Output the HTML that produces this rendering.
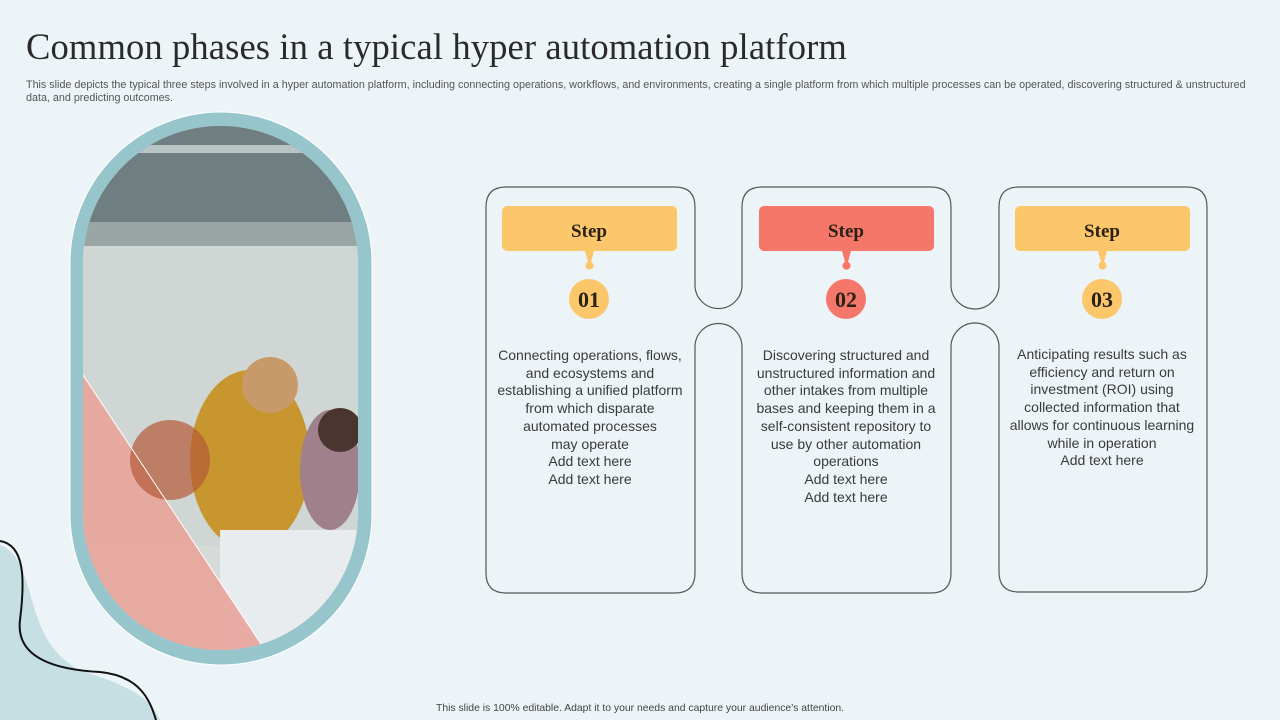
<!DOCTYPE html>
<html><head><meta charset="utf-8"><style>
body{margin:0;width:1280px;height:720px;overflow:hidden;background:#edf4f7;position:relative;font-family:"Liberation Sans",sans-serif}
.t{position:absolute;left:26px;top:25px;font-family:"Liberation Serif",serif;font-size:36.6px;color:#2a2a2a;white-space:nowrap;letter-spacing:0.1px}
.s{position:absolute;left:26px;top:79px;width:1240px;font-size:10.75px;line-height:13px;color:#555;white-space:nowrap}
.f{position:absolute;left:0;width:1280px;text-align:center;top:703px;font-size:10.4px;color:#444}
.b{position:absolute;width:220px;text-align:center;font-size:14px;line-height:17.7px;color:#3a3a3a;white-space:nowrap}
</style></head><body>
<div class="t">Common phases in a typical hyper automation platform</div>
<div class="s">This slide depicts the typical three steps involved in a hyper automation platform, including connecting operations, workflows, and environments, creating a single platform from which multiple processes can be operated, discovering structured &amp; unstructured<br>data, and predicting outcomes.</div>
<svg width="1280" height="720" style="position:absolute;left:0;top:0">
<defs>
<clipPath id="cp"><rect x="83" y="126" width="275" height="524" rx="137"/></clipPath>
</defs>
<path d="M0,545 C40,560 20,640 80,670 C140,690 150,700 160,720 L0,720 Z" fill="#c5dfe3"/>
<path d="M0,541 C25,545 25,580 20,620 C15,660 60,670 100,672 C140,676 150,700 156,720" fill="none" stroke="#111" stroke-width="2"/>
<rect x="70" y="112" width="302" height="553" rx="151" fill="#97c5cc" stroke="#fff" stroke-width="1"/>
<g clip-path="url(#cp)">
<rect x="83" y="126" width="275" height="524" fill="#d6dbd8"/>
<rect x="83" y="126" width="275" height="100" fill="#6f7e80"/>
<rect x="120" y="145" width="220" height="8" fill="#b8c4c4"/>
<rect x="83" y="222" width="275" height="24" fill="#9aa6a6"/>
<rect x="83" y="246" width="275" height="300" fill="#d0d6d3"/>
<ellipse cx="250" cy="460" rx="60" ry="90" fill="#c8962e"/>
<circle cx="270" cy="385" r="28" fill="#c89a6a"/>
<ellipse cx="330" cy="470" rx="30" ry="60" fill="#a0808a"/>
<circle cx="340" cy="430" r="22" fill="#4a3530"/>
<rect x="220" y="530" width="140" height="120" fill="#e8ecef"/>
<path d="M83,375 L265,650 L83,650 Z" fill="#e8a49a" opacity="0.9"/>
<circle cx="170" cy="460" r="40" fill="#b45a38" opacity="0.7"/>
<path d="M83,375 L265,650" stroke="#fff" stroke-width="1"/>
</g>
<g fill="none" stroke="#555" stroke-width="1.2">
<path d="M695,285 V207 Q695,187 675,187 H506 Q486,187 486,207 V573 Q486,593 506,593 H675 Q695,593 695,573 V347"/>
<path d="M695,285 A23.5,23.5 0 0 0 742,285"/>
<path d="M695,347 A23.5,23.5 0 0 1 742,347"/>
<path d="M742,285 V207 Q742,187 762,187 H931 Q951,187 951,207 V285"/>
<path d="M742,347 V573 Q742,593 762,593 H931 Q951,593 951,573 V347"/>
<path d="M951,285 A24,24 0 0 0 999,285"/>
<path d="M951,347 A24,24 0 0 1 999,347"/>
<path d="M999,285 V207 Q999,187 1019,187 H1187 Q1207,187 1207,207 V572 Q1207,592 1187,592 H1019 Q999,592 999,572 V347"/>
</g>
<g font-family="Liberation Serif,serif" font-weight="bold" text-anchor="middle" fill="#2a2216">
<rect x="502" y="206" width="175" height="45" rx="5" fill="#fcc76a"/>
<path d="M585,251 L594,251 L591,262 A4,4 0 1 1 588,262 Z" fill="#fcc76a"/>
<circle cx="589" cy="299" r="20" fill="#fcc76a"/>
<text x="589" y="237" font-size="19">Step</text><text x="589" y="307" font-size="22">01</text>
<rect x="759" y="206" width="175" height="45" rx="5" fill="#f5776a"/>
<path d="M842,251 L851,251 L848,262 A4,4 0 1 1 845,262 Z" fill="#f5776a"/>
<circle cx="846" cy="299" r="20" fill="#f5776a"/>
<text x="846" y="237" font-size="19">Step</text><text x="846" y="307" font-size="22">02</text>
<rect x="1015" y="206" width="175" height="45" rx="5" fill="#fcc76a"/>
<path d="M1098,251 L1107,251 L1104,262 A4,4 0 1 1 1101,262 Z" fill="#fcc76a"/>
<circle cx="1102" cy="299" r="20" fill="#fcc76a"/>
<text x="1102" y="237" font-size="19">Step</text><text x="1102" y="307" font-size="22">03</text>
</g>
</svg>
<div class="b" style="left:480px;top:347px">Connecting operations, flows,<br>and ecosystems and<br>establishing a unified platform<br>from which disparate<br>automated processes<br>may operate<br>Add text here<br>Add text here</div>
<div class="b" style="left:736px;top:347px">Discovering structured and<br>unstructured information and<br>other intakes from multiple<br>bases and keeping them in a<br>self-consistent repository to<br>use by other automation<br>operations<br>Add text here<br>Add text here</div>
<div class="b" style="left:992px;top:346px">Anticipating results such as<br>efficiency and return on<br>investment (ROI) using<br>collected information that<br>allows for continuous learning<br>while in operation<br>Add text here</div>
<div class="f">This slide is 100% editable. Adapt it to your needs and capture your audience's attention.</div>
</body></html>
